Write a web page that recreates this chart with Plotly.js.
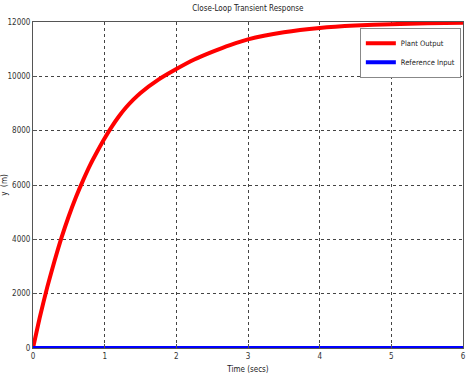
<!DOCTYPE html>
<html>
<head>
<meta charset="utf-8">
<script src="https://cdn.plot.ly/plotly-3.0.1.min.js"></script>
<style>html,body{margin:0;padding:0;background:#fff;}#chart{width:474px;height:387px;}</style>
</head>
<body>
<div id="chart"></div>
<script>
// Time (secs)
const timeSecs = [0, 0.1, 0.2, 0.3, 0.4, 0.5, 0.6, 0.7, 0.8, 0.9, 1.0, 1.1, 1.2, 1.3, 1.4, 1.5, 1.75, 2.0, 2.25, 2.5, 2.75, 3.0, 3.5, 4.0, 4.5, 5.0, 5.5, 6.0];
// Plant Output y (m)
const plantOutput = [0, 1190, 2250, 3200, 4080, 4860, 5560, 6180, 6750, 7250, 7720, 8150, 8530, 8860, 9140, 9390, 9880, 10270, 10620, 10900, 11150, 11360, 11620, 11780, 11870, 11920, 11955, 11975];
// Reference Input
const refTime = [0, 6];
const referenceInput = [0, 0];
const xTicks = [0, 1, 2, 3, 4, 5, 6];
const yTicks = [0, 2000, 4000, 6000, 8000, 10000, 12000];
const yTickText = ['0', '2000', '4000', '6000', '8000', '10000', '12000'];

const fontFam = '"DejaVu Sans Condensed", "Liberation Sans Narrow", "Liberation Sans", Arial, sans-serif';

const traces = [
  {x: timeSecs, y: plantOutput, type: 'scatter', mode: 'lines', name: 'Plant Output',
   line: {color: '#ff0000', width: 4, shape: 'spline', smoothing: 0.6}},
  {x: refTime, y: referenceInput, type: 'scatter', mode: 'lines', name: 'Reference Input',
   line: {color: '#0000ff', width: 4}}
];

const axisCommon = {
  showline: true, mirror: true, linecolor: '#555', linewidth: 1,
  showgrid: true, gridcolor: '#444', griddash: 'dot', gridwidth: 1,
  zeroline: false, ticks: 'inside', ticklen: 4, tickcolor: '#555',
  tickfont: {family: fontFam, size: 8, color: '#333'}
};

const layout = {
  width: 474, height: 387,
  margin: {l: 33, r: 11, t: 22, b: 39},
  paper_bgcolor: '#fff', plot_bgcolor: '#fff',
  title: {text: 'Close-Loop Transient Response', font: {family: fontFam, size: 8, color: '#222'},
          x: 0.523, xanchor: 'center', y: 0.98, yanchor: 'middle'},
  xaxis: Object.assign({}, axisCommon, {range: [0, 6], tickvals: xTicks,
    title: {text: 'Time (secs)', font: {family: fontFam, size: 8, color: '#222'}, standoff: 6}}),
  yaxis: Object.assign({}, axisCommon, {range: [0, 12000], tickvals: yTicks, ticktext: yTickText,
    automargin: false,
    title: {text: 'y  (m)', font: {family: fontFam, size: 8, color: '#222'}, standoff: 4}}),
  showlegend: true,
  legend: {x: 0.995, y: 0.982, xanchor: 'right', yanchor: 'top', bgcolor: '#fff',
    bordercolor: '#888', borderwidth: 1, font: {family: fontFam, size: 7.5, color: '#222'},
    tracegroupgap: 0, itemwidth: 30}
};

Plotly.newPlot('chart', traces, layout, {displayModeBar: false, staticPlot: true});
</script>
</body>
</html>
